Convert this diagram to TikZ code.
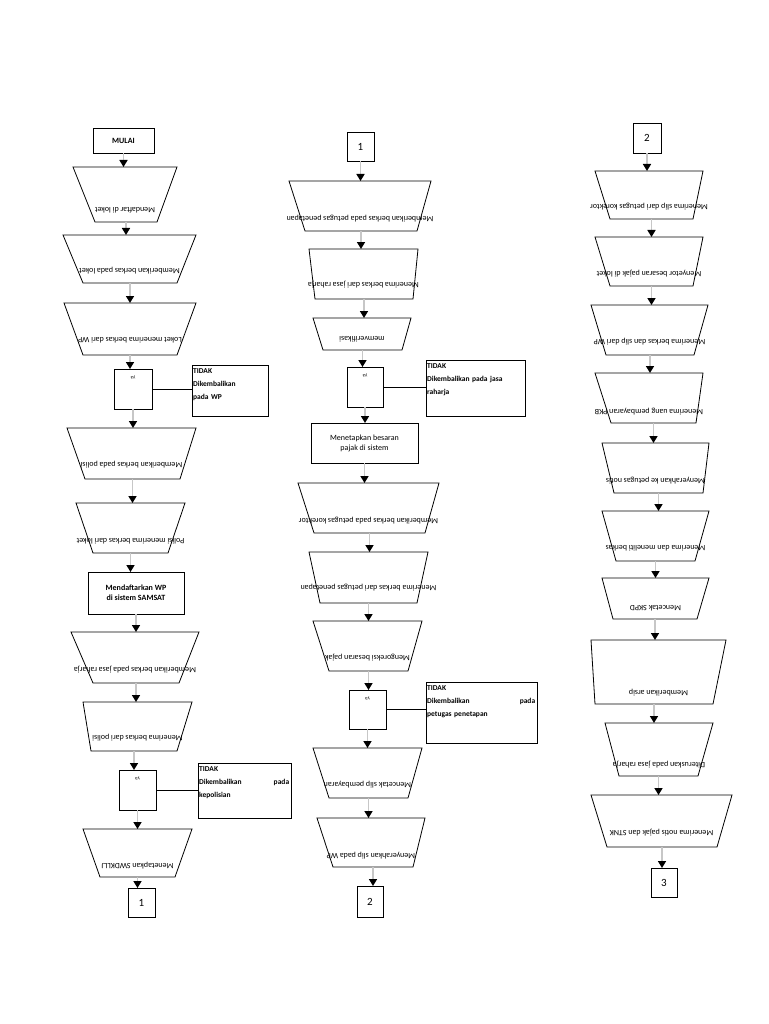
\documentclass[tikz,border=0pt]{standalone}
\usepackage{fontspec}
\setmainfont{Carlito}
\usetikzlibrary{arrows.meta}
\tikzset{
 shp/.style={draw=black,line width=0.8pt},
 lbl/.style={font=\fontsize{8}{9}\selectfont,inner sep=0pt},
 box/.style={draw=black,line width=0.8pt,font=\fontsize{8}{10}\selectfont\bfseries,align=center,inner sep=1pt},
 tbox/.style={font=\fontsize{7.5}{13}\selectfont\bfseries,align=left,inner sep=1pt,anchor=north west},
 arr/.style={draw=black!22,line width=1.6pt,-{Triangle[color=black,width=8pt,length=7pt]}},
 lnk/.style={draw=black,line width=0.8pt},
}
\newcommand{\trp}[9]{%
 \draw[shp] (#2,#4) -- (#3,#4) -- (#6,#7) -- (#5,#7) -- cycle;
 \coordinate (#1-t) at ({(#2+#3)/2},#4);
 \coordinate (#1-b) at ({(#5+#6)/2},#7);
 \node[lbl,rotate=180] (#1) at ({(#2+#3)/2},#8) {#9};}
\newcommand{\bxx}[6]{%
 \node[box,minimum width={(#4-#2)*1pt},minimum height={(#5-#3)*1pt}] (#1) at ({(#2+#4)/2},{(#3+#5)/2}) {#6};
 \coordinate (#1-t) at ({(#2+#4)/2},#3);
 \coordinate (#1-b) at ({(#2+#4)/2},#5);}
\newcommand{\yab}[5]{%
 \node[draw=black,line width=0.8pt,minimum width={(#4-#2)*1pt},minimum height={(#5-#3)*1pt},inner sep=0pt] (#1) at ({(#2+#4)/2},{(#3+#5)/2}) {};
 \node[font=\fontsize{5}{5}\selectfont,rotate=180] (#1-l) at ({(#2+#4)/2},{#3+8}) {ya};
 \coordinate (#1-t) at ({(#2+#4)/2},#3);
 \coordinate (#1-b) at ({(#2+#4)/2},#5);}
\newcommand{\tdk}[6]{%
 \draw[lnk] (#2,#3) rectangle (#4,#5);
 \node[tbox,text width={(#4-#2-3)*1pt}] (#1) at (#2,#3+2) {#6};
 \coordinate (#1-w) at (#2,{(#3+#5)/2});}
\begin{document}
\begin{tikzpicture}[x=1pt,y=-1pt]
\useasboundingbox (0,0) rectangle (768,1024);
% column 1
\bxx{m}{93}{128}{154}{153}{MULAI}
\trp{a1}{73}{177}{167}{95}{157}{222}{210}{Mendaftar di loket}
\trp{a2}{63}{196}{235}{83}{177}{283}{271}{Memberikan berkas pada loket}
\trp{a3}{64}{196}{303}{83}{177}{355}{340}{Loket menerima berkas dari WP}
\yab{y1}{114}{369}{152}{409}
\tdk{t1}{192}{365}{268}{416}{TIDAK\\Dikembalikan\\pada WP}
\trp{a4}{67}{196}{428}{85}{180}{479}{465}{Memberikan berkas pada polisi}
\trp{a5}{76}{185}{503}{93}{168}{553}{541}{Polisi menerima berkas dari loket}
\bxx{b1}{88}{572}{184}{614}{Mendaftarkan WP\\di sistem SAMSAT}
\trp{a6}{71}{199}{632}{93}{179}{683}{670}{Memberikan berkas pada jasa raharja}
\trp{a7}{83}{192}{702}{91}{177}{751}{738}{Menerima berkas dari polisi}
\yab{y2}{119}{770}{156}{810}
\tdk{t2}{198}{763}{291}{818}{TIDAK\\Dikembalikan\hfill pada\\kepolisian}
\trp{a8}{83}{192}{829}{100}{175}{877}{866}{Menetapkan SWDKLLJ}
\bxx{c1}{128}{888}{155}{917}{\fontsize{11}{11}\selectfont\mdseries 1}
\draw[arr] (m-b) -- (m-b |- a1-t);
\draw[arr] (a1-b) -- (a1-b |- a2-t);
\draw[arr] (a2-b) -- (a2-b |- a3-t);
\draw[arr] (a3-b) -- (a3-b |- y1-t);
\draw[arr] (y1-b) -- (y1-b |- a4-t);
\draw[arr] (a4-b) -- (a4-b |- a5-t);
\draw[arr] (a5-b) -- (a5-b |- b1-t);
\draw[arr] (b1-b) -- (b1-b |- a6-t);
\draw[arr] (a6-b) -- (a6-b |- a7-t);
\draw[arr] (a7-b) -- (a7-b |- y2-t);
\draw[arr] (y2-b) -- (y2-b |- a8-t);
\draw[arr] (a8-b) -- (a8-b |- c1-t);
\draw[lnk] (y1.east) -- (y1.east -| t1-w);
\draw[lnk] (y2.east) -- (y2.east -| t2-w);
% column 2
\bxx{d1}{347}{132}{374}{161}{\fontsize{11}{11}\selectfont\mdseries 1}
\trp{p1}{289}{431}{181}{305}{417}{231}{219}{Memberikan berkas pada petugas penetapan}
\trp{p2}{309}{418}{249}{315}{413}{299}{285}{Menerima berkas dari jasa raharja}
\trp{p3}{313}{411}{318}{323}{402}{350}{339}{memverifikasi}
\yab{y3}{347}{367}{383}{407}
\tdk{t3}{426}{360}{525}{416}{TIDAK\\Dikembalikan pada jasa\\raharja}
\bxx{b2}{311}{423}{418}{463}{\mdseries Menetapkan besaran\\\mdseries pajak di sistem}
\trp{p4}{298}{439}{483}{314}{425}{533}{521}{Memberikan berkas pada petugas korektor}
\trp{p5}{309}{428}{552}{320}{417}{603}{588}{Menerima berkas dari petugas penetapan}
\trp{p6}{313}{422}{621}{329}{408}{671}{658}{Mengoreksi besaran pajak}
\yab{y4}{349}{690}{386}{729}
\tdk{t4}{426}{682}{537}{743}{TIDAK\\Dikembalikan\hfill pada\\petugas penetapan}
\trp{p7}{313}{422}{748}{329}{408}{798}{785}{Mencetak slip pembayaran}
\trp{p8}{317}{425}{818}{333}{413}{867}{856}{Menyerahkan slip pada WP}
\bxx{d2}{357}{886}{383}{917}{\fontsize{11}{11}\selectfont\mdseries 2}
\draw[arr] (d1-b) -- (d1-b |- p1-t);
\draw[arr] (p1-b) -- (p1-b |- p2-t);
\draw[arr] (p2-b) -- (p2-b |- p3-t);
\draw[arr] (p3-b) -- (p3-b |- y3-t);
\draw[arr] (y3-b) -- (y3-b |- b2-t);
\draw[arr] (b2-b) -- (b2-b |- p4-t);
\draw[arr] (p4-b) -- (p4-b |- p5-t);
\draw[arr] (p5-b) -- (p5-b |- p6-t);
\draw[arr] (p6-b) -- (p6-b |- y4-t);
\draw[arr] (y4-b) -- (y4-b |- p7-t);
\draw[arr] (p7-b) -- (p7-b |- p8-t);
\draw[arr] (p8-b) -- (p8-b |- d2-t);
\draw[lnk] (y3.east) -- (y3.east -| t3-w);
\draw[lnk] (y4.east) -- (y4.east -| t4-w);
% column 3
\bxx{e1}{633}{123}{661}{153}{\fontsize{11}{11}\selectfont\mdseries 2}
\trp{q1}{595}{703}{171}{610}{693}{219}{207}{Menerima slip dari petugas korektor}
\trp{q2}{595}{703}{237}{610}{693}{286}{274}{Menyetor besaran pajak di loket}
\trp{q3}{591}{708}{305}{606}{694}{355}{342}{Menerima berkas dan slip dari WP}
\trp{q4}{595}{703}{373}{611}{696}{423}{412}{Menerima uang pembayaran PKB}
\trp{q5}{602}{709}{443}{614}{703}{493}{481}{Menyerahkan ke petugas notis}
\trp{q6}{602}{709}{511}{616}{695}{561}{548}{Menerima dan meneliti berkas}
\trp{q7}{602}{709}{578}{613}{697}{619}{608}{Mencetak SKPD}
\trp{q8}{591}{726}{640}{595}{713}{704}{693}{Memberikan arsip}
\trp{q9}{605}{713}{723}{619}{698}{776}{765}{Diteruskan pada jasa raharja}
\trp{q10}{591}{732}{795}{607}{717}{847}{833}{Menerima notis pajak dan STNK}
\bxx{e2}{651}{868}{677}{897}{\fontsize{11}{11}\selectfont\mdseries 3}
\draw[arr] (e1-b) -- (e1-b |- q1-t);
\draw[arr] (q1-b) -- (q1-b |- q2-t);
\draw[arr] (q2-b) -- (q2-b |- q3-t);
\draw[arr] (q3-b) -- (q3-b |- q4-t);
\draw[arr] (q4-b) -- (q4-b |- q5-t);
\draw[arr] (q5-b) -- (q5-b |- q6-t);
\draw[arr] (q6-b) -- (q6-b |- q7-t);
\draw[arr] (q7-b) -- (q7-b |- q8-t);
\draw[arr] (q8-b) -- (q8-b |- q9-t);
\draw[arr] (q9-b) -- (q9-b |- q10-t);
\draw[arr] (q10-b) -- (q10-b |- e2-t);
\end{tikzpicture}
\end{document}
